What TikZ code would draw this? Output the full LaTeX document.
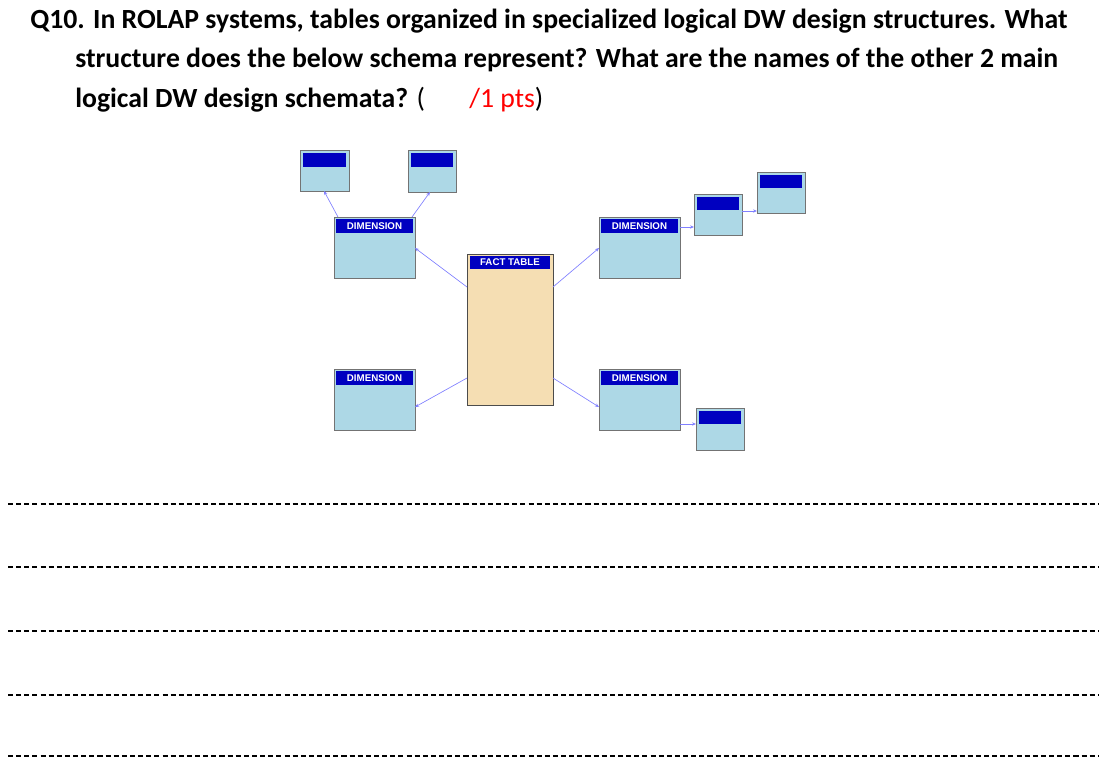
\documentclass[tikz,border=0pt]{standalone}
\usepackage{fontspec}
\setmainfont{Carlito}
\newfontfamily\arialf{Liberation Sans}
\usetikzlibrary{arrows.meta}
\definecolor{lb}{HTML}{ADD8E6}
\definecolor{hb}{HTML}{0000C0}
\definecolor{wheat}{HTML}{F5DEB3}
\definecolor{ln}{HTML}{8080FF}
\tikzset{
  x=0.75pt,y=-0.75pt,
  tbl/.style={draw=gray!90!black,fill=lb,line width=0.6pt},
  fct/.style={draw=black!70,fill=wheat,line width=0.6pt},
  hdr/.style={fill=hb,draw=none},
  htxt/.style={text=white,font=\arialf\bfseries\fontsize{7.3}{8}\selectfont,inner sep=0pt},
  conn/.style={draw=ln,line width=0.5pt,-{Stealth[length=3pt,width=2.5pt]}},
  qline/.style={anchor=base west,inner sep=0pt,font=\bfseries\fontsize{20.8}{24}\selectfont},
  dl/.style={line width=1.2pt,dash pattern=on 3.8pt off 2.3pt}
}
\begin{document}
\begin{tikzpicture}
\useasboundingbox (0,0) rectangle (1110,758);
\node[qline] (q1) at (30,28) {Q10. In ROLAP systems, tables organized in specialized logical DW design structures. What};
\node[qline] (q2) at (75,67) {structure does the below schema represent? What are the names of the other 2 main};
\node[qline] (q3) at (75,107) {logical DW design schemata? {\mdseries(\hspace{1.6em}\textcolor{red}{/1 pts})}};

% small tables
\path[tbl] (300,150) rectangle (349,191); \path[hdr] (303,153) rectangle (346,167);
\path[tbl] (408,150) rectangle (456,192); \path[hdr] (411,153) rectangle (453,167);
\path[tbl] (694,194) rectangle (742,235); \path[hdr] (697,197) rectangle (739,210);
\path[tbl] (757,172) rectangle (805,213); \path[hdr] (760,175) rectangle (802,188);
\path[tbl] (696,408) rectangle (744,450); \path[hdr] (699,411) rectangle (741,424);
\coordinate (s1) at (324,191); \coordinate (s2) at (430,192);
\coordinate (s3) at (694,227); \coordinate (s3b) at (742,211);
\coordinate (s4) at (757,211); \coordinate (s5) at (696,424);

% dimensions
\foreach \n/\x/\y in {dtl/334/217, dtr/599/217, dbl/334/369, dbr/599/369}{
  \path[tbl] (\x,\y) rectangle (\x+81,\y+61);
  \path[hdr] (\x+2,\y+2) rectangle (\x+79,\y+16);
  \node[htxt] (\n) at (\x+40.5,\y+9) {DIMENSION};
}
% fact
\path[fct] (467,254) rectangle (553,405);
\path[hdr] (470,256) rectangle (550,269);
\node[htxt] (ft) at (510,262.5) {FACT TABLE};

\coordinate (dtla) at (338,217); \coordinate (dtlb) at (412,217);
\coordinate (dtlr) at (415,248); \coordinate (dtrl) at (599,248);
\coordinate (dblr) at (415,407); \coordinate (dbrl) at (599,407);
\coordinate (dtrr) at (680,227); \coordinate (dbrr) at (680,424);
\coordinate (f1) at (467,287); \coordinate (f2) at (553,287);
\coordinate (f3) at (467,378); \coordinate (f4) at (553,378);

\draw[conn] (dtla) -- (s1);
\draw[conn] (dtlb) -- (s2);
\draw[conn] (f1) -- (dtlr);
\draw[conn] (f2) -- (dtrl);
\draw[conn] (f3) -- (dblr);
\draw[conn] (f4) -- (dbrl);
\draw[conn] (dtrr) -- (s3);
\draw[conn] (s3b) -- (s4);
\draw[conn] (dbrr) -- (s5);

\foreach \yy in {504,567,631,695,756}{
  \draw[dl] (8,\yy) -- (1098,\yy);
}
\end{tikzpicture}
\end{document}
